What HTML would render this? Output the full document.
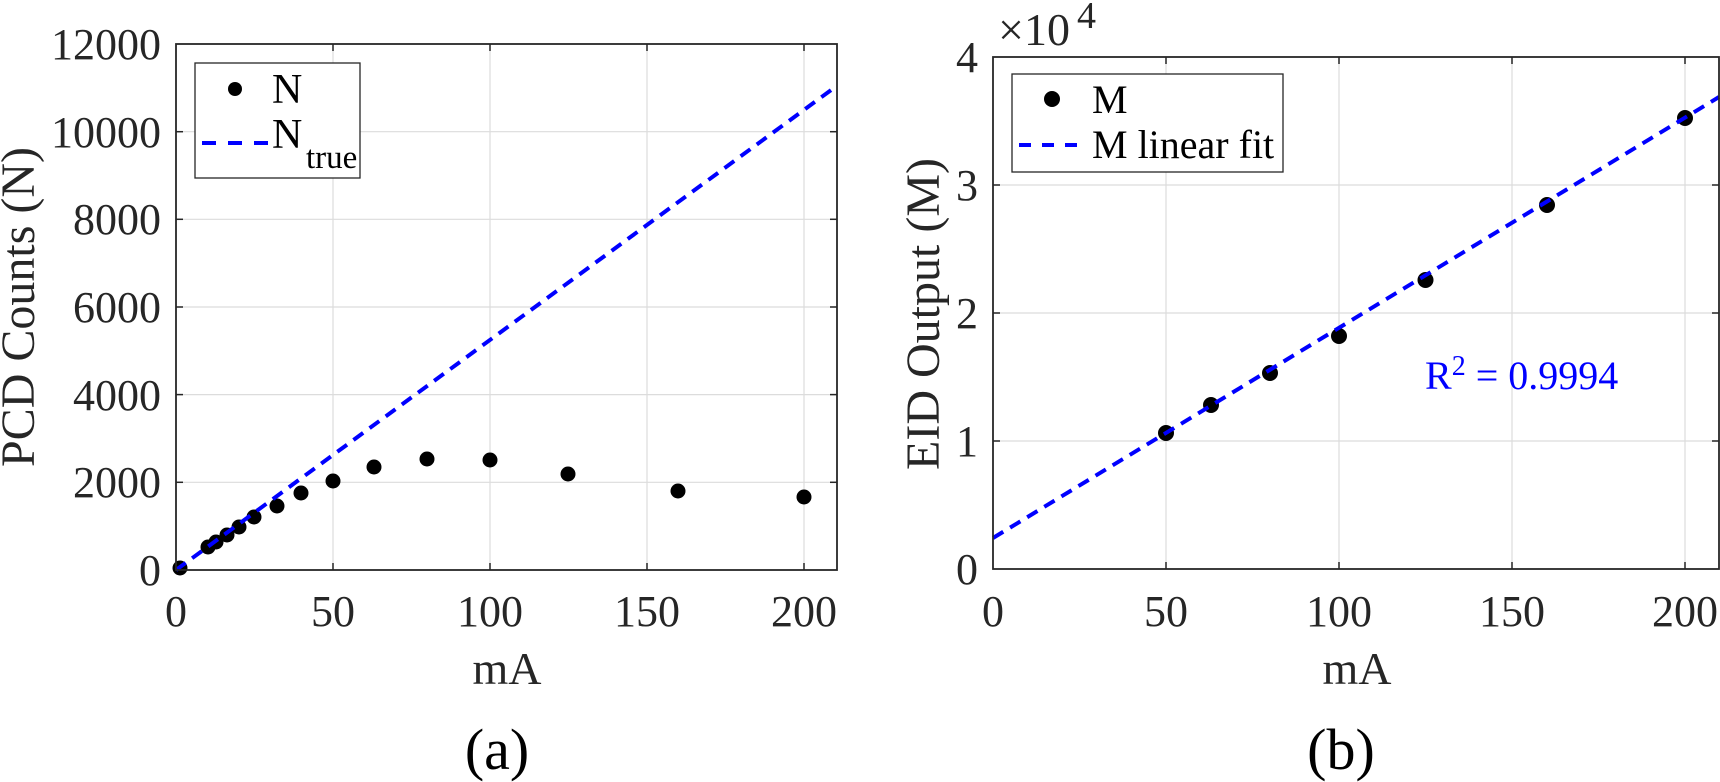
<!DOCTYPE html>
<html><head><meta charset="utf-8"><style>
html,body{margin:0;padding:0;background:#fff}
svg{display:block}
text{font-family:"Liberation Serif",serif;fill:#262626}
</style></head><body>
<svg width="1720" height="782" viewBox="0 0 1720 782" xmlns="http://www.w3.org/2000/svg">
<!-- LEFT PLOT -->
<g stroke="#dcdcdc" stroke-width="1.2">
<line x1="333" y1="44" x2="333" y2="570"/><line x1="490" y1="44" x2="490" y2="570"/>
<line x1="647" y1="44" x2="647" y2="570"/><line x1="804" y1="44" x2="804" y2="570"/>
<line x1="176" y1="482.3" x2="837" y2="482.3"/><line x1="176" y1="394.6" x2="837" y2="394.6"/>
<line x1="176" y1="307" x2="837" y2="307"/><line x1="176" y1="219.3" x2="837" y2="219.3"/>
<line x1="176" y1="131.7" x2="837" y2="131.7"/>
</g>
<g stroke="#262626" stroke-width="1.5">
<line x1="333" y1="570" x2="333" y2="563"/><line x1="490" y1="570" x2="490" y2="563"/><line x1="647" y1="570" x2="647" y2="563"/><line x1="804" y1="570" x2="804" y2="563"/>
<line x1="333" y1="44" x2="333" y2="51"/><line x1="490" y1="44" x2="490" y2="51"/><line x1="647" y1="44" x2="647" y2="51"/><line x1="804" y1="44" x2="804" y2="51"/>
<line x1="176" y1="482.3" x2="183" y2="482.3"/><line x1="176" y1="394.6" x2="183" y2="394.6"/><line x1="176" y1="307" x2="183" y2="307"/><line x1="176" y1="219.3" x2="183" y2="219.3"/><line x1="176" y1="131.7" x2="183" y2="131.7"/>
<line x1="837" y1="482.3" x2="830" y2="482.3"/><line x1="837" y1="394.6" x2="830" y2="394.6"/><line x1="837" y1="307" x2="830" y2="307"/><line x1="837" y1="219.3" x2="830" y2="219.3"/><line x1="837" y1="131.7" x2="830" y2="131.7"/>
</g>
<g fill="#000">
<circle cx="180" cy="568" r="7.5"/><circle cx="208" cy="547" r="7.5"/><circle cx="216" cy="542" r="7.5"/><circle cx="227" cy="535" r="7.5"/><circle cx="239" cy="527" r="7.5"/><circle cx="254" cy="517" r="7.5"/><circle cx="277" cy="506" r="7.5"/><circle cx="301" cy="493" r="7.5"/><circle cx="333" cy="481" r="7.5"/><circle cx="374" cy="467" r="7.5"/><circle cx="427" cy="459" r="7.5"/><circle cx="490" cy="460" r="7.5"/><circle cx="568" cy="474" r="7.5"/><circle cx="678" cy="491" r="7.5"/><circle cx="804" cy="497" r="7.5"/>
</g>
<line x1="176" y1="570" x2="837" y2="85.7" stroke="#0000ff" stroke-width="4" stroke-dasharray="12,8"/>
<rect x="176" y="44" width="661" height="526" fill="none" stroke="#262626" stroke-width="1.8"/>
<rect x="195" y="63" width="165" height="115" fill="#fff" stroke="#262626" stroke-width="1.3"/>
<circle cx="235" cy="89" r="7" fill="#000"/>
<text x="272" y="103" font-size="42" style="fill:#000">N</text>
<line x1="202" y1="143" x2="268" y2="143" stroke="#0000ff" stroke-width="4" stroke-dasharray="14,12"/>
<text x="272" y="148" font-size="42" style="fill:#000">N</text>
<text x="306" y="168" font-size="33" style="fill:#000">true</text>
<g font-size="44" text-anchor="end">
<text x="161" y="585">0</text><text x="161" y="497">2000</text><text x="161" y="410">4000</text><text x="161" y="322">6000</text><text x="161" y="234">8000</text><text x="161" y="147">10000</text><text x="161" y="59">12000</text>
</g>
<g font-size="44" text-anchor="middle">
<text x="176" y="626">0</text><text x="333" y="626">50</text><text x="490" y="626">100</text><text x="647" y="626">150</text><text x="804" y="626">200</text>
</g>
<text x="507" y="684" font-size="46" text-anchor="middle">mA</text>
<text x="497" y="769" font-size="58" text-anchor="middle" style="fill:#000">(a)</text>
<text transform="translate(34,307) rotate(-90)" font-size="48" text-anchor="middle">PCD Counts (N)</text>

<!-- RIGHT PLOT -->
<g stroke="#dcdcdc" stroke-width="1.2">
<line x1="1166" y1="57" x2="1166" y2="569"/><line x1="1339" y1="57" x2="1339" y2="569"/><line x1="1512" y1="57" x2="1512" y2="569"/><line x1="1685" y1="57" x2="1685" y2="569"/>
<line x1="993" y1="441" x2="1719" y2="441"/><line x1="993" y1="313" x2="1719" y2="313"/><line x1="993" y1="185" x2="1719" y2="185"/>
</g>
<g stroke="#262626" stroke-width="1.5">
<line x1="1166" y1="569" x2="1166" y2="562"/><line x1="1339" y1="569" x2="1339" y2="562"/><line x1="1512" y1="569" x2="1512" y2="562"/><line x1="1685" y1="569" x2="1685" y2="562"/>
<line x1="1166" y1="57" x2="1166" y2="64"/><line x1="1339" y1="57" x2="1339" y2="64"/><line x1="1512" y1="57" x2="1512" y2="64"/><line x1="1685" y1="57" x2="1685" y2="64"/>
<line x1="993" y1="441" x2="1000" y2="441"/><line x1="993" y1="313" x2="1000" y2="313"/><line x1="993" y1="185" x2="1000" y2="185"/>
<line x1="1719" y1="441" x2="1712" y2="441"/><line x1="1719" y1="313" x2="1712" y2="313"/><line x1="1719" y1="185" x2="1712" y2="185"/>
</g>
<g fill="#000">
<circle cx="1166" cy="433" r="8"/><circle cx="1211" cy="405" r="8"/><circle cx="1270" cy="373" r="8"/><circle cx="1339" cy="336" r="8"/><circle cx="1425.5" cy="280" r="8"/><circle cx="1547" cy="205" r="8"/><circle cx="1685" cy="118" r="8"/>
</g>
<line x1="993" y1="538" x2="1719" y2="97" stroke="#0000ff" stroke-width="4" stroke-dasharray="12,8"/>
<rect x="993" y="57" width="726" height="512" fill="none" stroke="#262626" stroke-width="1.8"/>
<rect x="1012" y="74" width="271" height="98" fill="#fff" stroke="#262626" stroke-width="1.3"/>
<circle cx="1052" cy="99" r="8" fill="#000"/>
<text x="1092" y="113" font-size="40" style="fill:#000">M</text>
<line x1="1019" y1="145" x2="1077" y2="145" stroke="#0000ff" stroke-width="4" stroke-dasharray="12,11"/>
<text x="1092" y="158" font-size="40" style="fill:#000">M linear fit</text>
<g font-size="44" text-anchor="end">
<text x="978" y="584">0</text><text x="978" y="456">1</text><text x="978" y="328">2</text><text x="978" y="200">3</text><text x="978" y="72">4</text>
</g>
<text x="998" y="45" font-size="46">×10</text>
<text x="1077" y="28" font-size="38">4</text>
<g font-size="44" text-anchor="middle">
<text x="993" y="626">0</text><text x="1166" y="626">50</text><text x="1339" y="626">100</text><text x="1512" y="626">150</text><text x="1685" y="626">200</text>
</g>
<text x="1357" y="684" font-size="46" text-anchor="middle">mA</text>
<text x="1341" y="769" font-size="58" text-anchor="middle" style="fill:#000">(b)</text>
<text transform="translate(939,314) rotate(-90)" font-size="48" text-anchor="middle">EID Output (M)</text>
<text x="1425" y="389" font-size="40" style="fill:#0000ff">R<tspan font-size="28" dy="-14">2</tspan><tspan dy="14"> = 0.9994</tspan></text>
</svg>
</body></html>
